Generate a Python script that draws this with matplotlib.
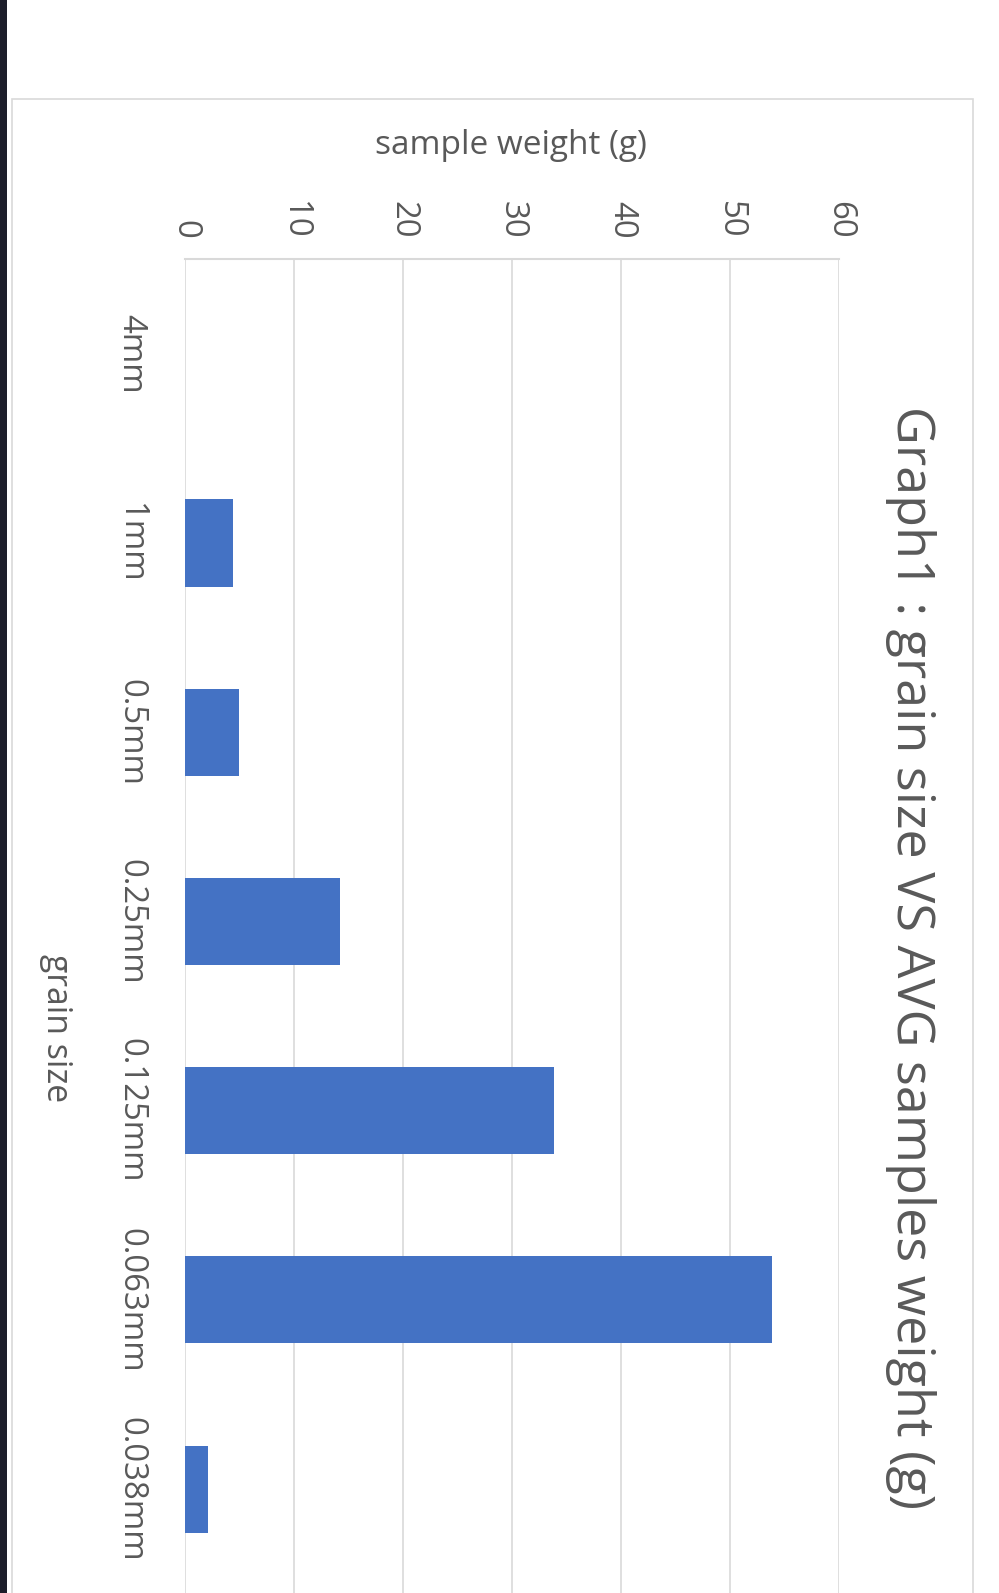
import matplotlib
matplotlib.use("Agg")
import matplotlib.pyplot as plt
from matplotlib.patches import Rectangle

categories = ["4mm", "1mm", "0.5mm", "0.25mm", "0.125mm", "0.063mm", "0.038mm"]
weights = [0.0, 4.4, 5.0, 14.2, 33.8, 53.8, 2.1]
value_ticks = [0, 10, 20, 30, 40, 50, 60]

title = "Graph1 : grain size VS AVG samples weight (g)"
value_label = "sample weight (g)"
category_label = "grain size"

W, H = 999, 1593
S = 1 / 0.984  # layout measured on a slightly scaled view
plt.rcParams['font.family'] = ['Open Sans', 'DejaVu Sans']
fig = plt.figure(figsize=(W / 100, H / 100), dpi=100)
fig.patch.set_facecolor("white")


def fx(px):
    return px * S / W


def fy(px):
    return 1 - px * S / H


# dark strip at left edge
fig.patches.append(Rectangle((0, 0), 7 / W, 1, transform=fig.transFigure,
                             facecolor="#1d1e2a", edgecolor="none", zorder=-2))
# chart frame
fig.patches.append(Rectangle((fx(12), -0.05), fx(957) - fx(12), fy(97) + 0.05,
                             transform=fig.transFigure, facecolor="white",
                             edgecolor="#d9d9d9", linewidth=1.2, zorder=-2))

top_px, bot_px = 255, 1620
ax = fig.add_axes([fx(182), fy(bot_px), fx(826) - fx(182), fy(top_px) - fy(bot_px)])
ax.set_zorder(1)
ax.set_facecolor("none")
spacing_px = 186.2
ax.set_ylim(-0.5 + (bot_px - top_px) / spacing_px, -0.5)
ax.set_xlim(0, 60)

ypos = list(range(len(categories)))
ax.barh(ypos, weights, height=0.46, color="#4472C4", zorder=3)

ax.set_xticks(value_ticks)
ax.set_xticklabels([str(v) for v in value_ticks])
ax.set_yticks(ypos)
ax.set_yticklabels(categories)
ax.xaxis.set_ticks_position("top")
ax.tick_params(axis="x", length=0, pad=15, labelsize=23.7, labelcolor="#595959", labelrotation=-90)
ax.tick_params(axis="y", length=0, pad=27, labelsize=23.7, labelcolor="#595959", labelrotation=-90)
for lbl in ax.get_yticklabels():
    lbl.set_va("center")

ax.grid(axis="x", color="#d9d9d9", linewidth=1.2, zorder=0)
for s in ["right", "bottom", "left"]:
    ax.spines[s].set_visible(False)
ax.spines["top"].set_color("#d9d9d9")
ax.spines["top"].set_linewidth(1.5)

fig.text(fx(896), fy(942), title, rotation=-90, ha="center", va="center",
         fontsize=37.5, color="#595959")
fig.text(fx(503), fy(143), value_label, ha="center", va="center",
         fontsize=24, color="#595959")
fig.text(fx(55), fy(1012), category_label, rotation=-90, ha="center", va="center",
         fontsize=24.3, color="#595959")

fig.savefig("out.png", dpi=100, facecolor="white")
